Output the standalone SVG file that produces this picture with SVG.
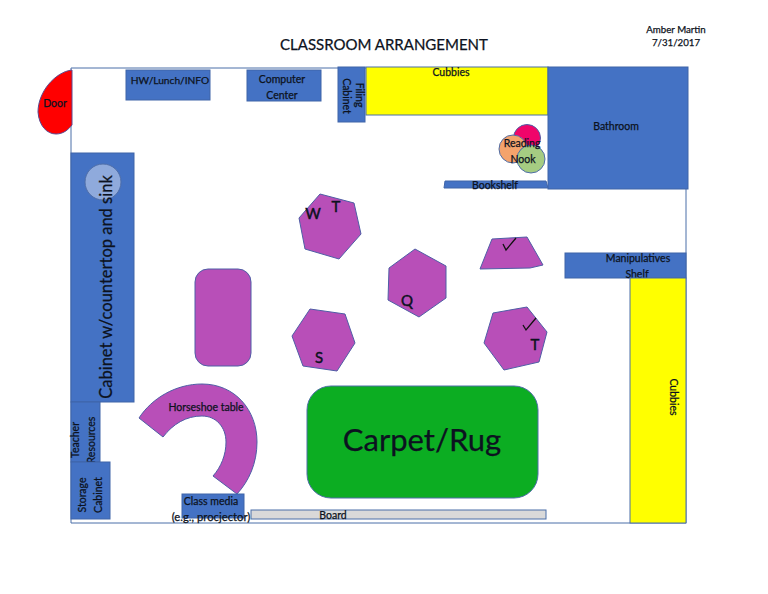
<svg xmlns="http://www.w3.org/2000/svg" width="768" height="594" viewBox="0 0 768 594">
<style>
text{font-family:Lato,"Open Sans","Liberation Sans",sans-serif;fill:#0c1220;stroke:#0c1220;stroke-width:.25;text-anchor:middle}
.b{fill:#4472c4;stroke:#3f64a8;stroke-width:1}
.y{fill:#ff0;stroke:#4a6ea8;stroke-width:1}
.p{fill:#b84fb8;stroke:#4f5ea6;stroke-width:1}
.s{font-size:10.5px}
.l{font-size:15px;stroke-width:.45}
.c{fill:none;stroke:#111;stroke-width:1.3}
</style>
<rect width="768" height="594" fill="#fff"/>
<text x="384" y="50" style="font-size:15px">CLASSROOM ARRANGEMENT</text>
<g id="author"><text x="676" y="33" style="font-size:9.7px">Amber Martin</text><text x="676" y="46" style="font-size:9.7px">7/31/2017</text></g>
<path id="room" d="M71 68H686V523H71Z" fill="#fff" stroke="#4a6ea8" stroke-width="1"/>
<g id="door"><path d="M72 70C55 72 38 92 38 112C39 126 47 134 56 134C63 134 68 130 72 125Z" fill="#f00" stroke="#5a4a90"/><text x="55" y="107" class="s">Door</text></g>
<g id="hw"><rect class="b" x="126" y="70" width="84" height="30"/><text x="170" y="84" style="font-size:10.200px">HW/Lunch/INFO</text></g>
<g id="computer"><rect class="b" x="247" y="70" width="74" height="31"/><text x="282" y="83" class="s">Computer</text><text x="282" y="99" class="s">Center</text></g>
<g id="filing"><rect class="b" x="338" y="67" width="27" height="55"/><text transform="translate(356,95) rotate(90)" class="s">Filing</text><text transform="translate(343,96) rotate(90)" class="s">Cabinet</text></g>
<g id="cubbies-top"><rect class="y" x="366" y="67" width="182" height="48"/><text x="451" y="76" class="s">Cubbies</text></g>
<g id="bathroom"><rect class="b" x="548" y="67" width="140" height="122"/><text x="616" y="130" class="s">Bathroom</text></g>
<g id="reading-nook"><circle cx="527" cy="138" r="13.500" fill="#f0056a" stroke="#4f5ea6"/><circle cx="513" cy="149" r="14" fill="#f4a36c" stroke="#4f6ea8"/><circle cx="531" cy="159" r="14" fill="#a5cc82" stroke="#4f6ea8"/><text x="522" y="147" class="s">Reading</text><text x="523" y="163" class="s">Nook</text></g>
<g id="bookshelf"><path class="b" d="M445 181H546L548 188H444Z"/><text x="495" y="189" class="s">Bookshelf</text></g>
<g id="cabinet"><rect class="b" x="71" y="153" width="63" height="249"/><circle cx="103" cy="182" r="18" fill="#8faadc" stroke="#4f6ea8"/><text transform="translate(112,287) rotate(-90)" style="font-size:16.500px">Cabinet w/countertop and sink</text></g>
<g id="teacher"><rect class="b" x="71" y="402" width="29" height="60"/><text transform="translate(79,440) rotate(-90)" class="s">Teacher</text><text transform="translate(95,440) rotate(-90)" class="s">Resources</text></g>
<g id="storage"><rect class="b" x="71" y="462" width="39" height="57"/><text transform="translate(86,495) rotate(-90)" class="s">Storage</text><text transform="translate(102,495) rotate(-90)" class="s">Cabinet</text></g>
<g id="table-rect"><rect class="p" x="195" y="269" width="56" height="97" rx="13"/></g>
<g id="horseshoe"><path class="p" d="M139 418C152 398 176 384 202 384C235 384 257 410 257 442C257 463 249 481 237 494L213 476C221 467 226 455 226 442C226 427 216 416 202 416C186 416 173 424 163 437Z"/><text x="206" y="411" class="s">Horseshoe table</text></g>
<g id="class-media"><rect class="b" x="182" y="494" width="62" height="24"/><text x="211" y="505" class="s">Class media</text><text x="211" y="521" style="font-size:11.300px">(e.g., procjector)</text></g>
<g id="board"><rect x="251" y="510" width="295" height="9" fill="#d9d9d9" stroke="#4a6ea8"/><text x="333" y="519" class="s">Board</text></g>
<g id="table-wt"><path class="p" d="M320 194L354 203L361 234L339 259L305 249L299 218Z"/><text x="313" y="219" class="l">W</text><text x="336" y="212" class="l">T</text></g>
<g id="table-q"><path class="p" d="M415 249L446 266V298L419 317L388 300L389 268Z"/><text x="407" y="306" class="l">Q</text></g>
<g id="table-check"><path class="p" d="M492 239L527 237L543 265L530 268L480 269Z"/><path class="c" d="M503 244L506 250L516 238"/></g>
<g id="table-s"><path class="p" d="M310 309L345 314L355 343L337 371L303 366L292 336Z"/><text x="319" y="363" class="l">S</text></g>
<g id="table-t"><path class="p" d="M493 313L527 307L547 332L539 362L504 370L484 343Z"/><path class="c" d="M523 325L526 330L536 318"/><text x="535" y="350" class="l">T</text></g>
<g id="carpet"><rect x="307" y="386" width="231" height="112" rx="24" fill="#0cad22" stroke="#4f6ea8"/><text x="422" y="451" style="font-size:31px">Carpet/Rug</text></g>
<g id="manipulatives"><rect class="b" x="565" y="253" width="121" height="25"/><text x="638" y="262" class="s">Manipulatives</text><text x="637" y="278" class="s">Shelf</text></g>
<g id="cubbies-right"><rect class="y" x="630" y="278" width="56" height="245"/><text transform="translate(670,397) rotate(90)" class="s">Cubbies</text></g>
<g id="connectors"/>
</svg>
